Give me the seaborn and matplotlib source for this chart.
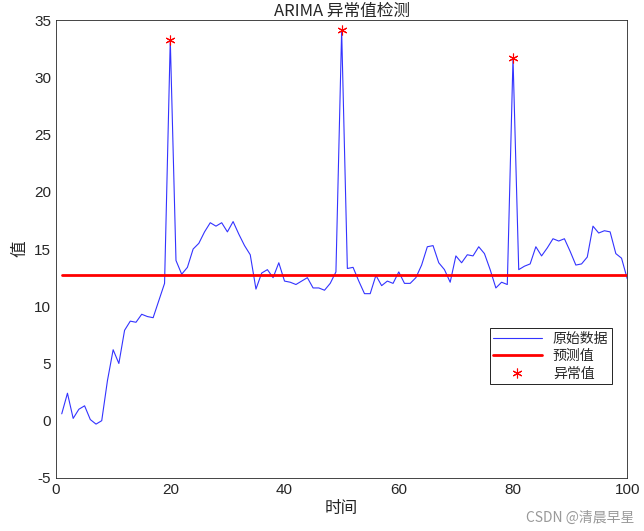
import numpy as np
import matplotlib
matplotlib.use('Agg')
import matplotlib.pyplot as plt
import seaborn as sns

t = np.arange(1, 101)
values = [0.6, 2.4, 0.2, 1.0, 1.3, 0.1, -0.3, 0.0, 3.5, 6.2,
          5.0, 7.9, 8.7, 8.6, 9.3, 9.1, 9.0, 10.5, 12.0, 33.3,
          14.0, 12.8, 13.4, 15.0, 15.5, 16.5, 17.3, 17.0, 17.3, 16.5,
          17.4, 16.3, 15.3, 14.5, 11.5, 12.9, 13.2, 12.5, 13.8, 12.2,
          12.1, 11.9, 12.2, 12.5, 11.6, 11.6, 11.4, 12.0, 13.0, 34.1,
          13.3, 13.4, 12.2, 11.1, 11.1, 12.7, 11.8, 12.2, 12.0, 13.0,
          12.0, 12.0, 12.5, 13.6, 15.2, 15.3, 13.8, 13.2, 12.1, 14.4,
          13.8, 14.5, 14.4, 15.2, 14.6, 13.2, 11.6, 12.1, 11.9, 31.7,
          13.2, 13.5, 13.7, 15.2, 14.4, 15.1, 15.9, 15.7, 15.9, 14.8,
          13.6, 13.7, 14.3, 17.0, 16.4, 16.6, 16.5, 14.6, 14.2, 12.4]
forecast = 12.7
outlier_idx = [20, 50, 80]

sns.set_style('white')
plt.rcParams['font.family'] = ['Liberation Sans', 'Noto Sans CJK SC', 'DejaVu Sans']
plt.rcParams['axes.unicode_minus'] = False
cjk = ['Noto Sans CJK SC', 'DejaVu Sans']

fig = plt.figure(figsize=(6.44, 5.31), dpi=100)
ax = fig.add_axes([0.087, 0.1, 0.887, 0.862])

sns.lineplot(x=t, y=values, ax=ax, color='#3333ff', linewidth=0.8, label='原始数据')
sns.lineplot(x=t, y=[forecast] * len(t), ax=ax, color='red', linewidth=2, label='预测值')
ax.plot(outlier_idx, [values[i - 1] for i in outlier_idx], marker=(6, 2, 0), color='red',
        markersize=7, markeredgewidth=0.8, linestyle='none', label='异常值')

ax.set_xlim(0, 100)
ax.set_ylim(-5, 35)
ax.set_xticks(range(0, 101, 20))
ax.set_yticks(range(-5, 36, 5))
ax.tick_params(direction='in', labelsize=11, length=4)
for s in ax.spines.values():
    s.set_color('#262626')
    s.set_linewidth(0.6)
ax.set_title('ARIMA 异常值检测', fontsize=12, family=cjk, pad=3)
ax.set_xlabel('时间', fontsize=12, family=cjk, labelpad=2)
ax.set_ylabel('值', fontsize=12, family=cjk)
leg = ax.legend(loc='lower right', bbox_to_anchor=(0.985, 0.19), prop={'family': cjk, 'size': 10},
                fancybox=False, edgecolor='black', framealpha=1, borderpad=0.25,
                handlelength=3.5, labelspacing=0.25)
leg.get_frame().set_linewidth(0.6)
fig.text(0.985, 0.012, 'CSDN @清晨早星', ha='right', va='bottom', fontsize=10, color='#999999', family=cjk)

fig.savefig('out.png', dpi=100)
